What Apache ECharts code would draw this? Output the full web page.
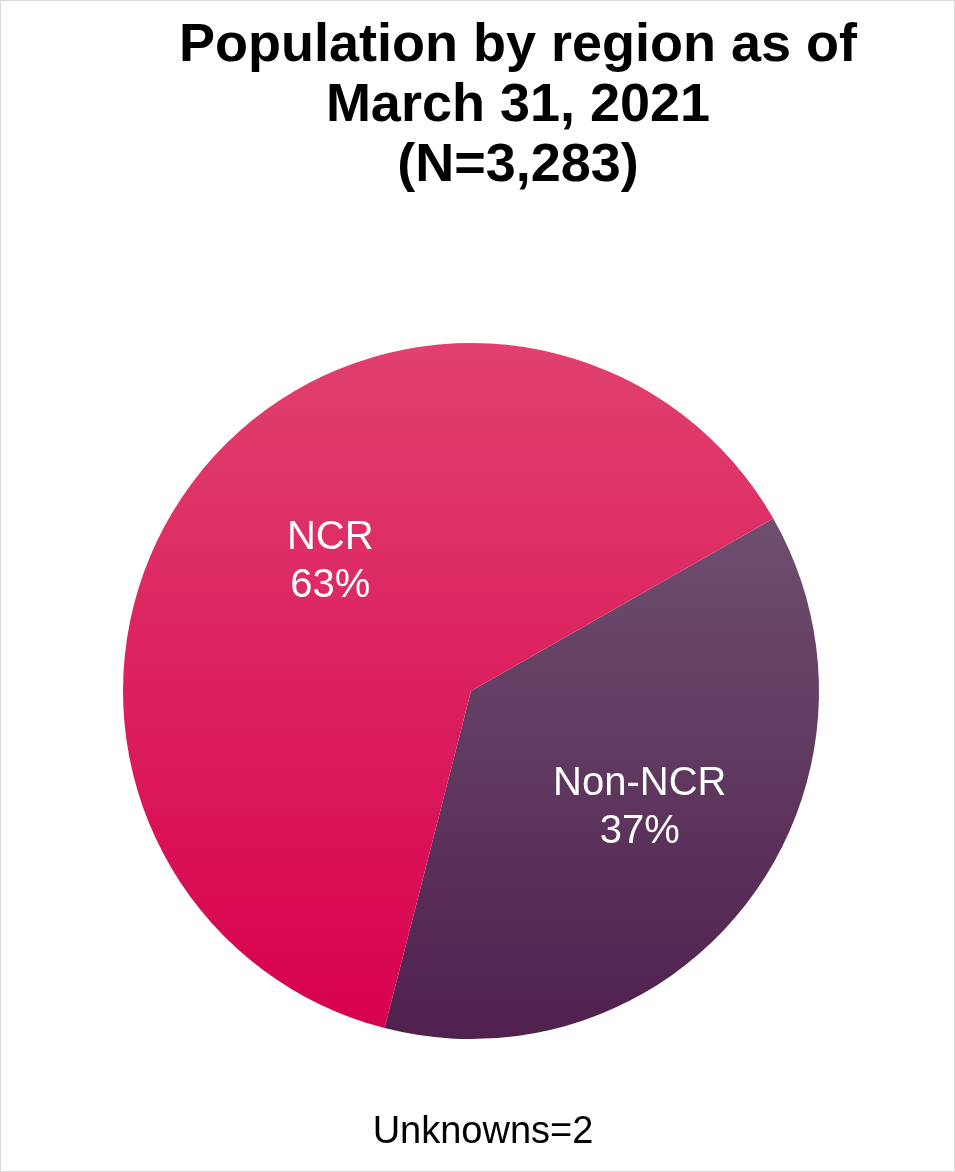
<!DOCTYPE html>
<html><head><meta charset="utf-8">
<script src="https://cdn.jsdelivr.net/npm/echarts@6/dist/echarts.min.js"></script>
<style>html,body{margin:0;padding:0;background:#fff}#c{width:955px;height:1172px;box-sizing:border-box;border:1px solid #d9d9d9}</style>
</head><body><div id="c"></div>
<script>
const categories = ['Non-NCR', 'NCR'];
const values = [1222, 2059];
const titleText = 'Population by region as of\nMarch 31, 2021\n(N=3,283)';
const footnote = 'Unknowns=2';
const colors = [
  ['#6e4f6e', '#50204f'],
  ['#e0416e', '#d8004f']
];
const chart = echarts.init(document.getElementById('c'));
chart.setOption({
  backgroundColor: '#fff',
  title: [{
    text: titleText, left: 512, top: 10, textAlign: 'center',
    textStyle: {fontFamily: 'Liberation Sans, Arial', fontWeight: 'bold', fontSize: 54, lineHeight: 60, color: '#000'}
  }, {
    text: footnote, left: 477, top: 1108, textAlign: 'center',
    textStyle: {fontFamily: 'Liberation Sans, Arial', fontWeight: 'normal', fontSize: 38, color: '#000'}
  }],
  series: [{
    type: 'pie', center: [470, 690], radius: [0, 348], startAngle: 29.7,
    clockwise: true, animation: false,
    label: {show: true, position: 'inside', formatter: p => p.name + '\n' + Math.round(p.percent) + '%',
      color: '#fff', fontSize: 40, lineHeight: 48, fontFamily: 'Liberation Sans, Arial'},
    labelLine: {show: false},
    itemStyle: {borderWidth: 0},
    data: categories.map((n, i) => ({
      name: n, value: values[i],
      label: i === 0 ? {offset: [28, 10]} : {offset: [0, -22]},
      itemStyle: {color: {type: 'linear', x: 0, y: 0, x2: 0, y2: 1,
        colorStops: [{offset: 0, color: colors[i][0]}, {offset: 1, color: colors[i][1]}]}}
    }))
  }]
});
</script></body></html>
